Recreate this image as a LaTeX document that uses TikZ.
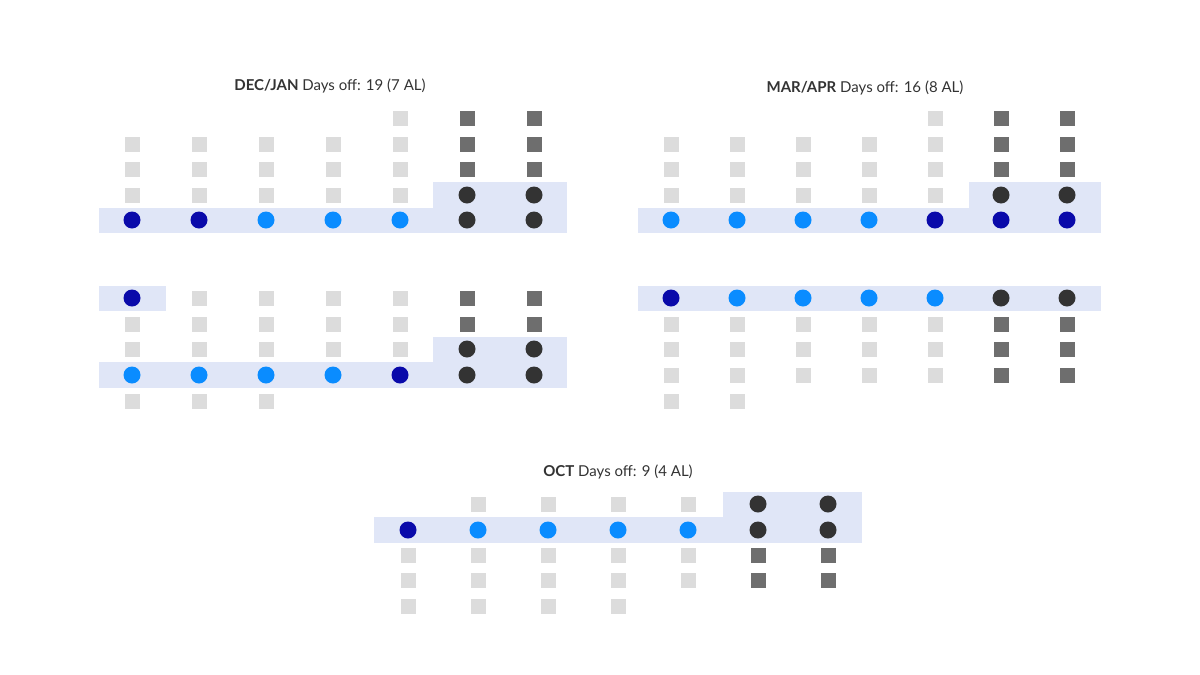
\documentclass[tikz,border=0pt]{standalone}
\usepackage{fontspec}
\setmainfont{Lato}
\definecolor{band}{HTML}{E0E6F7}
\definecolor{navy}{HTML}{0A0AAA}
\definecolor{sky}{HTML}{0A8CFF}
\definecolor{blk}{HTML}{333333}
\definecolor{dgr}{HTML}{6E6E6E}
\definecolor{lgr}{HTML}{DCDCDC}
\def\skipmark{x}
\begin{document}
\begin{tikzpicture}[x=1pt,y=-1pt,
  L/.style={rectangle,fill=lgr,minimum size=15pt,inner sep=0pt},
  D/.style={rectangle,fill=dgr,minimum size=15pt,inner sep=0pt},
  N/.style={circle,fill=navy,minimum size=17pt,inner sep=0pt},
  B/.style={circle,fill=sky,minimum size=17pt,inner sep=0pt},
  K/.style={circle,fill=blk,minimum size=17pt,inner sep=0pt},
  ttl/.style={font=\fontsize{15}{18}\selectfont,text=blk,anchor=center}]
\useasboundingbox (0,0) rectangle (1200,675);
% bands
\fill[band] (99,208) rectangle (567,233);
\fill[band] (433,182) rectangle (567,208);
\fill[band] (99,286) rectangle (166,311);
\fill[band] (433,337) rectangle (567,362);
\fill[band] (99,362) rectangle (567,388);
\fill[band] (969,182) rectangle (1101,208);
\fill[band] (638,208) rectangle (1101,233);
\fill[band] (638,286) rectangle (1101,311);
\fill[band] (723,492) rectangle (862,517);
\fill[band] (374,517) rectangle (862,543);
% titles
\node[ttl] (t1) at (330,86) {\textbf{DEC/JAN} Days off: 19 (7 AL)};
\node[ttl] (t2) at (865,88) {\textbf{MAR/APR} Days off: 16 (8 AL)};
\node[ttl] (t3) at (618,472) {\textbf{OCT} Days off: 9 (4 AL)};
\newcommand\prow[4]{%
  \foreach \t [count=\i] in {#4}{%
    \ifx\t\skipmark\else
    \pgfmathsetmacro\xx{#3}%
    \node[\t] (#1-\i) at (\xx,#2) {};\fi}}
\prow{a1}{118}{132+67*(\i-1)}{x,x,x,x,L,D,D}
\prow{a2}{144}{132+67*(\i-1)}{L,L,L,L,L,D,D}
\prow{a3}{169}{132+67*(\i-1)}{L,L,L,L,L,D,D}
\prow{a4}{195}{132+67*(\i-1)}{L,L,L,L,L,K,K}
\prow{a5}{220}{132+67*(\i-1)}{N,N,B,B,B,K,K}
\prow{b1}{298}{132+67*(\i-1)}{N,L,L,L,L,D,D}
\prow{b2}{324}{132+67*(\i-1)}{L,L,L,L,L,D,D}
\prow{b3}{349}{132+67*(\i-1)}{L,L,L,L,L,K,K}
\prow{b4}{375}{132+67*(\i-1)}{B,B,B,B,N,K,K}
\prow{b5}{401}{132+67*(\i-1)}{L,L,L}
\prow{c1}{118}{671+66*(\i-1)}{x,x,x,x,L,D,D}
\prow{c2}{144}{671+66*(\i-1)}{L,L,L,L,L,D,D}
\prow{c3}{169}{671+66*(\i-1)}{L,L,L,L,L,D,D}
\prow{c4}{195}{671+66*(\i-1)}{L,L,L,L,L,K,K}
\prow{c5}{220}{671+66*(\i-1)}{B,B,B,B,N,N,N}
\prow{d1}{298}{671+66*(\i-1)}{N,B,B,B,B,K,K}
\prow{d2}{324}{671+66*(\i-1)}{L,L,L,L,L,D,D}
\prow{d3}{349}{671+66*(\i-1)}{L,L,L,L,L,D,D}
\prow{d4}{375}{671+66*(\i-1)}{L,L,L,L,L,D,D}
\prow{d5}{401}{671+66*(\i-1)}{L,L}
\prow{e1}{504}{408+70*(\i-1)}{x,L,L,L,L,K,K}
\prow{e2}{530}{408+70*(\i-1)}{N,B,B,B,B,K,K}
\prow{e3}{555}{408+70*(\i-1)}{L,L,L,L,L,D,D}
\prow{e4}{580}{408+70*(\i-1)}{L,L,L,L,L,D,D}
\prow{e5}{606}{408+70*(\i-1)}{L,L,L,L}
\end{tikzpicture}
\end{document}
